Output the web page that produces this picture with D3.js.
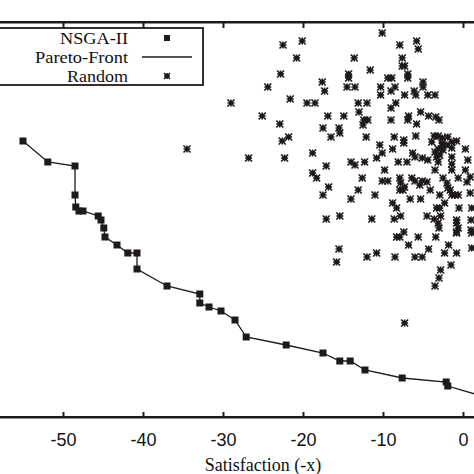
<!DOCTYPE html>
<html>
<head>
<meta charset="utf-8">
<script src="https://cdn.jsdelivr.net/npm/d3@7"></script>
<style>
  body { margin: 0; background: #fff; }
  svg { display: block; font-family: "Liberation Serif", "Times New Roman", serif; }
  .axis text { font-size: 18px; fill: #111; }
</style>
</head>
<body>
<div id="chart"></div>
<script>
// NSGA-II solutions (satisfaction -x, cost)
const nsgaPoints = [
  [-55, 55.2], [-51.9, 51], [-48.5, 50.2], [-48.5, 44.4], [-48.4, 42], [-48, 41.2],
  [-47.5, 41.2], [-45.6, 40.2], [-45.25, 39.4], [-44.9, 37.8], [-44.75, 36], [-43.25, 34.4],
  [-41.9, 32.8], [-40.75, 32.8], [-40.75, 29.6], [-37, 26.2], [-32.9, 24.6], [-32.9, 22.8],
  [-31.75, 22], [-30.25, 21.2], [-28.5, 19.4], [-27.1, 16], [-22.1, 14.4], [-17.5, 12.8],
  [-15.4, 11.2], [-14.1, 11.2], [-12.25, 9.4], [-7.6, 7.8], [-2.1, 7], [-1.9, 6.2], [1.9, 4.4]
];

// random solutions
const randomPoints = [
  [-10.1, 76.8], [-22.5, 74.4], [-20.1, 75.2], [-7.9, 74.4], [-5.8, 75.2], [-5.6, 73.6],
  [-20.8, 71.8], [-13.6, 71.8], [-7.6, 71.8], [-7.6, 70.2], [-7.3, 70.2], [-22.8, 68.6],
  [-11.6, 69.4], [-14.3, 68.6], [-14.3, 67.8], [-6.9, 68.6], [-6.9, 67.8], [-9.4, 67.8],
  [-8.9, 67.8], [-17.6, 67], [-24.4, 66], [-17.3, 65.2], [-14.5, 66], [-13.5, 66],
  [-10.3, 66], [-10.3, 64.4], [-9, 65.2], [-8.5, 66], [-5, 67], [-5, 66],
  [-6.1, 65.2], [-7.3, 64.4], [-5.9, 64.4], [-4.4, 64.4], [-3.5, 64.4], [-21.6, 63.6],
  [-29, 62.8], [-19.5, 62.8], [-18.5, 62.8], [-13.1, 62.8], [-12, 62.8], [-9, 61.8],
  [-8.4, 62.8], [-25.1, 60.2], [-16.9, 60.2], [-14.9, 60.2], [-13, 61], [-9, 59.4],
  [-6.8, 60.2], [-6.9, 59.4], [-5.3, 61], [-4.3, 60.2], [-3.4, 60], [-3, 59.4],
  [-22.9, 58.6], [-17.5, 57.8], [-15.5, 57.8], [-12.4, 59.4], [-12.5, 58.4], [-5.8, 58.6],
  [-11.9, 59.4], [-15.4, 56.8], [-16.5, 56], [-12.1, 56], [-10.4, 54.4], [-8.6, 56],
  [-7.4, 55.4], [-7.4, 54.8], [-5.9, 56.2], [-3.6, 56.2], [-3.1, 56.2], [-2.6, 55.8],
  [-1.9, 56], [-3.9, 55], [-2.6, 54.8], [-2, 54.4], [-1.4, 55], [-0.8, 55.2],
  [-22.6, 55.2], [-21.8, 56], [-26.8, 51.8], [-22.3, 51.8], [-34.5, 53.6], [-18.8, 52.8],
  [-14, 51], [-13.5, 50.4], [-12.3, 51], [-10.8, 51.8], [-10.1, 52.8], [-8.8, 53.6],
  [-6.3, 52.8], [-6, 52], [-5.1, 51.8], [-4.4, 51.4], [-3.5, 53], [-3.1, 53.6],
  [-2.6, 54.2], [-3.3, 52], [-2.9, 52.4], [-2.5, 53.4], [-1.4, 53.8], [0.3, 53.6],
  [-8.1, 51], [-7, 51], [-3.1, 51], [-1.4, 52], [-1.4, 50.6], [-17.1, 50.2],
  [-18.8, 48.8], [-18.3, 47.8], [-9.8, 49.4], [-3.5, 49.4], [-1.4, 49.4], [0.3, 49.4],
  [-12.6, 47.8], [-10.1, 47.2], [-9.4, 47.2], [-7.9, 47.8], [-7.8, 46.8], [-7.9, 45.4],
  [-7.5, 45.4], [-7.3, 46], [-6.4, 47.8], [-6, 47.2], [-5.1, 47.2], [-4.5, 47],
  [-5.4, 46.4], [-4.1, 45.4], [-2.5, 47.8], [-2, 46.8], [-1.9, 45.8], [-1.6, 45.4],
  [-1.4, 44.4], [-1, 44.4], [-0.6, 44.4], [-0.6, 47.8], [0.5, 47], [-2.9, 44.4],
  [0.9, 48], [-16.8, 46], [-17.5, 44.4], [-13.1, 45.4], [-14, 43.6], [-11, 44.4],
  [-6.6, 43.6], [-5.3, 43.6], [-8.8, 42.8], [-8.3, 41.8], [-3.3, 41.8], [-2.9, 41.8],
  [-2.3, 42.8], [-0.5, 41.8], [1.1, 41.8], [-17.1, 39.6], [-15.4, 40.2], [-11.4, 39.6],
  [-8.6, 39.6], [-7.8, 40.2], [-4.5, 40.2], [-3.6, 39.6], [-2.8, 40.2], [-3.1, 38.8],
  [-3, 37.8], [-0.8, 39.4], [-0.8, 38.8], [-0.6, 37.8], [-0.8, 37], [1, 39.4],
  [1, 37.4], [-8.3, 36], [-7.9, 36], [-7.4, 37], [-5.6, 36], [-3.4, 36],
  [-0.8, 36.8], [1.1, 36.8], [-6.8, 34.4], [-4.3, 33.6], [-1.8, 34.4], [1.1, 33.8],
  [-15.5, 33.6], [-15.8, 31], [-12, 32], [-10.8, 32.8], [-8.5, 32], [-6, 32],
  [-5.1, 32], [-2.3, 32.8], [-0.8, 32.8], [-1.5, 30.4], [-2.8, 29.4], [-3, 27.8],
  [-3.5, 26.2], [-7.3, 18.8], [0.9, 44.8], [0.6, 51.4]
];

const xTicks = [-50, -40, -30, -20, -10, 0];
const legendLabels = ["NSGA-II", "Pareto-Front", "Random"];
const xTitle = "Satisfaction (-x)";

const W = 474, H = 474;
const ink = "#1e1a1a";

const svg = d3.select("#chart").append("svg")
    .attr("width", W)
    .attr("height", H);

// scales (plot is cropped on the left and right)
const x = d3.scaleLinear().domain([-60, 3]).range([-17, 487]);
const y = d3.scaleLinear().domain([0, 79]).range([417, 22]);

// frame
svg.append("rect")
    .attr("x", x(-60)).attr("y", y(79))
    .attr("width", x(3) - x(-60)).attr("height", y(0) - y(79))
    .attr("fill", "none").attr("stroke", ink).attr("stroke-width", 2);

// bottom axis, ticks pointing inward, plain hyphen minus
const xAxis = d3.axisBottom(x).tickValues(xTicks).tickSizeInner(-5).tickSizeOuter(0)
    .tickPadding(16).tickFormat(d => String(d));
svg.append("g")
    .attr("class", "axis")
    .attr("transform", `translate(0,${y(0)})`)
    .call(xAxis)
    .call(g => g.select(".domain").attr("stroke", ink).attr("stroke-width", 2))
    .call(g => g.selectAll(".tick line").attr("stroke", ink).attr("stroke-width", 2));

// top mirror ticks
svg.append("g")
    .attr("class", "axis")
    .attr("transform", `translate(0,${y(79)})`)
    .call(d3.axisTop(x).tickValues(xTicks).tickSizeInner(-6).tickSizeOuter(0).tickFormat(""))
    .call(g => g.select(".domain").attr("stroke", ink).attr("stroke-width", 2))
    .call(g => g.selectAll(".tick line").attr("stroke", ink).attr("stroke-width", 2));

// axis title
svg.append("text")
    .attr("x", 263).attr("y", 471)
    .attr("text-anchor", "middle")
    .attr("font-size", 18).attr("fill", "#111")
    .text(xTitle);

// asterisk marker
function star(g, cx, cy, r) {
    g.append("path")
        .attr("d", `M${cx - r},${cy}H${cx + r}M${cx},${cy - r}V${cy + r}` +
                   `M${cx - r},${cy - r}L${cx + r},${cy + r}M${cx - r},${cy + r}L${cx + r},${cy - r}`)
        .attr("stroke", ink).attr("stroke-width", 1.6).attr("fill", "none");
    g.append("rect")
        .attr("x", cx - 2).attr("y", cy - 2).attr("width", 4).attr("height", 4)
        .attr("fill", ink);
}

// random points
const rnd = svg.append("g");
randomPoints.forEach(d => star(rnd, x(d[0]), y(d[1]), 3.5));

// pareto front line
svg.append("path")
    .datum(nsgaPoints)
    .attr("fill", "none")
    .attr("stroke", ink)
    .attr("stroke-width", 1.3)
    .attr("d", d3.line().x(d => x(d[0])).y(d => y(d[1])));

// NSGA-II squares
svg.append("g").selectAll("rect")
    .data(nsgaPoints)
    .join("rect")
    .attr("x", d => x(d[0]) - 3.5)
    .attr("y", d => y(d[1]) - 3.5)
    .attr("width", 7).attr("height", 7)
    .attr("fill", ink);

// legend (text is a bit wide in the original, so stretch it)
const leg = svg.append("g");
leg.append("rect")
    .attr("x", -10).attr("y", 28).attr("width", 213).attr("height", 57)
    .attr("fill", "#fff").attr("stroke", ink).attr("stroke-width", 1.8);
const rows = [38, 57, 76];
const legWidths = [68, 93, 61];
legendLabels.forEach((t, i) => {
    leg.append("text")
        .attr("x", 128).attr("y", rows[i] + 6)
        .attr("text-anchor", "end")
        .attr("font-size", 17).attr("fill", "#111")
        .attr("textLength", legWidths[i])
        .attr("lengthAdjust", "spacingAndGlyphs")
        .text(t);
});
leg.append("rect")
    .attr("x", 164).attr("y", rows[0] - 3).attr("width", 6).attr("height", 6)
    .attr("fill", ink);
leg.append("line")
    .attr("x1", 142).attr("x2", 192).attr("y1", rows[1]).attr("y2", rows[1])
    .attr("stroke", ink).attr("stroke-width", 1.3);
star(leg, 167, rows[2], 3);
</script>
</body>
</html>
